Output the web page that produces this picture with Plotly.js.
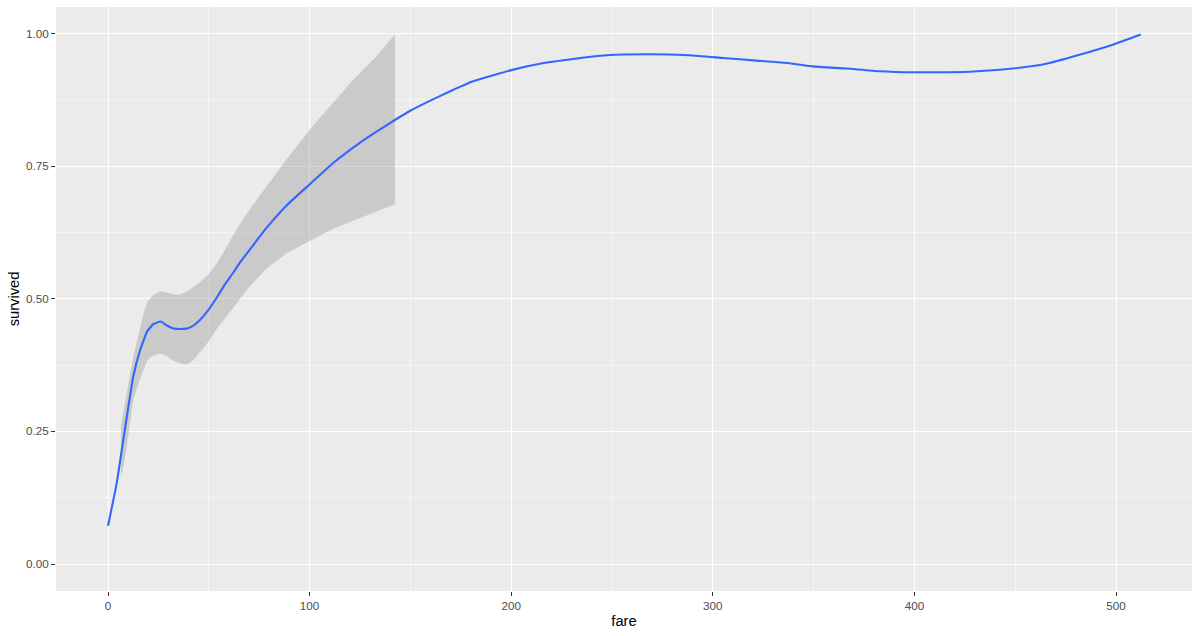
<!DOCTYPE html>
<html>
<head>
<meta charset="utf-8">
<script src="https://cdn.plot.ly/plotly-3.0.1.min.js"></script>
<style>html,body{margin:0;padding:0;background:#fff;}#chart{width:1200px;height:636px;}</style>
</head>
<body>
<div id="chart"></div>
<script>
// Smoothed line (fare vs survived)
var lineFare = [0, 4.3, 7.3, 12.5, 15.9, 19.5, 22.5, 26.1, 29, 32.4, 36, 39.3, 42.5, 45.6, 50, 53.9, 58, 62.1, 65.4, 70.4, 78.7, 88.6, 100.1, 111.7, 124.9, 133.2, 142.3, 149.7, 164.6, 181.1, 200.1, 214.2, 230.7, 247.2, 268.7, 288.5, 305.1, 321.6, 338.1, 349.7, 366.2, 382.7, 400, 410.8, 427.4, 448.8, 465.4, 481.9, 498.4, 512.3];
var lineSurv = [0.072, 0.152, 0.227, 0.353, 0.403, 0.439, 0.452, 0.457, 0.450, 0.444, 0.443, 0.444, 0.450, 0.460, 0.480, 0.502, 0.527, 0.549, 0.568, 0.593, 0.634, 0.676, 0.716, 0.756, 0.794, 0.815, 0.837, 0.854, 0.882, 0.910, 0.931, 0.943, 0.952, 0.959, 0.961, 0.959, 0.954, 0.949, 0.944, 0.938, 0.934, 0.929, 0.927, 0.927, 0.928, 0.934, 0.943, 0.960, 0.979, 0.998];

// Confidence band
var bandFare  = [6.4, 8, 10, 12.5, 15, 17.5, 19.5, 22, 25.8, 29, 32.4, 36, 39.3, 42.5, 45.6, 50, 53.9, 58, 63.8, 70.4, 78.7, 88.6, 100.1, 111.7, 121.6, 133.2, 142.3];
var bandUpper = [0.26, 0.295, 0.335, 0.39, 0.43, 0.47, 0.495, 0.505, 0.514, 0.512, 0.508, 0.508, 0.514, 0.522, 0.531, 0.547, 0.566, 0.592, 0.631, 0.669, 0.712, 0.763, 0.819, 0.870, 0.913, 0.957, 0.998];
var bandLower = [0.165, 0.19, 0.24, 0.31, 0.34, 0.365, 0.384, 0.392, 0.397, 0.392, 0.383, 0.378, 0.376, 0.385, 0.399, 0.42, 0.443, 0.463, 0.49, 0.524, 0.557, 0.586, 0.609, 0.632, 0.647, 0.665, 0.678];

var xTicks = [0, 100, 200, 300, 400, 500];
var yTicks = [0, 0.25, 0.5, 0.75, 1.0];
var yTickText = ['0.00', '0.25', '0.50', '0.75', '1.00'];

var traces = [
  {x: bandFare, y: bandLower, mode: 'lines', line: {width: 0, color: 'rgba(0,0,0,0)'}, hoverinfo: 'skip', showlegend: false},
  {x: bandFare, y: bandUpper, mode: 'lines', line: {width: 0, color: 'rgba(0,0,0,0)'}, fill: 'tonexty', fillcolor: 'rgba(153,153,153,0.4)', hoverinfo: 'skip', showlegend: false},
  {x: lineFare, y: lineSurv, mode: 'lines', line: {color: '#3366FF', width: 2.1, shape: 'spline', smoothing: 0.4}, showlegend: false}
];

var tickFont = {family: 'Liberation Sans, Arial, sans-serif', size: 11.7, color: '#4D4D4D'};
var titleFont = {family: 'Liberation Sans, Arial, sans-serif', size: 14.7, color: '#000000'};

var layout = {
  width: 1200, height: 636,
  margin: {l: 56, r: 8, t: 7, b: 45},
  paper_bgcolor: '#FFFFFF',
  plot_bgcolor: '#EBEBEB',
  showlegend: false,
  xaxis: {
    range: [-25.8, 537.7],
    tickvals: xTicks, ticktext: xTicks.map(String),
    ticks: 'outside', ticklen: 4, tickwidth: 1, tickcolor: '#333333',
    tickfont: tickFont,
    showgrid: true, gridcolor: '#FFFFFF', gridwidth: 1,
    minor: {tickvals: [50, 150, 250, 350, 450], showgrid: true, gridcolor: '#FFFFFF', gridwidth: 0.5, ticks: ''},
    zeroline: false, showline: false,
    title: {text: 'fare', font: titleFont, standoff: 4}
  },
  yaxis: {
    range: [-0.0509, 1.050],
    tickvals: yTicks, ticktext: yTickText,
    ticks: 'outside', ticklen: 4, tickwidth: 1, tickcolor: '#333333',
    tickfont: tickFont,
    showgrid: true, gridcolor: '#FFFFFF', gridwidth: 1,
    minor: {tickvals: [0.125, 0.375, 0.625, 0.875], showgrid: true, gridcolor: '#FFFFFF', gridwidth: 0.5, ticks: ''},
    zeroline: false, showline: false,
    title: {text: 'survived', font: titleFont, standoff: 2}
  }
};

Plotly.newPlot('chart', traces, layout, {displayModeBar: false, staticPlot: true});
</script>
</body>
</html>
